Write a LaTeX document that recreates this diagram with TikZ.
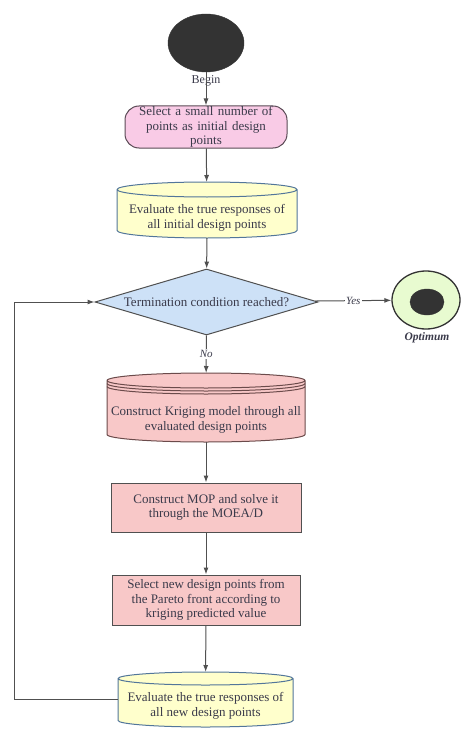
\documentclass[tikz,border=0pt]{standalone}
\usepackage{fontspec}
\setmainfont{Liberation Serif}
\usetikzlibrary{shapes.geometric,arrows.meta,backgrounds,calc}
\definecolor{txt}{HTML}{3A3A4A}
\definecolor{lc}{HTML}{505050}
\definecolor{dark}{HTML}{333333}
\definecolor{pinkfill}{HTML}{F9CBE6}
\definecolor{pinkline}{HTML}{5A4A55}
\definecolor{yelfill}{HTML}{FFFFCC}
\definecolor{yelline}{HTML}{52769A}
\definecolor{bluefill}{HTML}{CDE1F7}
\definecolor{redfill}{HTML}{F8C8C8}
\definecolor{redline}{HTML}{6B4B4B}
\definecolor{greenfill}{HTML}{E8FBD0}
\newcommand\mycyl[3]{%
  \path[#3] let \p1=(#1.north west), \p2=(#1.south east), \n1={(\x2-\x1)/2} in
    (\x1,\y1-#2) -- (\x1,\y2+#2)
    arc[start angle=180,end angle=360,x radius=\n1,y radius=#2]
    -- (\x2,\y1-#2)
    arc[start angle=0,end angle=180,x radius=\n1,y radius=#2] -- cycle
    (\x1,\y1-#2) arc[start angle=180,end angle=360,x radius=\n1,y radius=#2];}
\begin{document}
\begin{tikzpicture}[x=1pt,y=-1pt,
  font=\fontsize{13}{14.5}\selectfont, text=txt,
  line/.style={draw=lc, line width=1pt},
  arr/.style={line, -{Latex[length=7pt,width=5pt]}},
  lbl/.style={font=\fontsize{11}{13}\selectfont\itshape, fill=white, inner sep=1.5pt},
  shapenode/.style={rectangle, inner sep=0pt, outer sep=0pt},
  txtnode/.style={align=center, inner sep=0pt},
  rectbox/.style={rectangle, draw=lc, line width=1pt, fill=redfill, align=center, inner sep=0pt}]
\useasboundingbox (0,0) rectangle (474,741);

% Begin
\node[ellipse, fill=dark, draw=dark, minimum width=76pt, minimum height=58pt, inner sep=0pt] (begin) at (206,43) {};
\node[font=\fontsize{12}{14}\selectfont] (beginl) at (206,81) {Begin};

% Select initial
\node[rectangle, rounded corners=14pt, draw=pinkline, line width=1pt, fill=pinkfill,
      minimum width=162pt, minimum height=42pt, text width=160pt, align=center, inner sep=0pt] (sel) at (206,127)
      {Select a small number of\\ points as initial design\\ points};

% Evaluate initial (cylinder)
\node[shapenode, minimum width=180pt, minimum height=56pt] (ev1) at (207,210) {};
\node[txtnode] (ev1t) at (207,218) {Evaluate the true responses of\\ all initial design points};

% Decision
\node[diamond, draw=lc, line width=1pt, fill=bluefill, minimum width=223pt, minimum height=66pt, inner sep=0pt] (term) at (206.5,302) {};
\node[txtnode] (termt) at (206.5,302) {Termination condition reached?};

% Optimum
\node[ellipse, draw=dark, line width=1.3pt, fill=greenfill, minimum width=68pt, minimum height=58pt, inner sep=0pt] (opt) at (426,300) {};
\node[ellipse, fill=dark, draw=dark, minimum width=34pt, minimum height=26pt, inner sep=0pt] (optin) at (427,302) {};
\node[font=\fontsize{11.5}{13}\selectfont\bfseries\itshape] (optl) at (427,338) {Optimum};

% Kriging (stacked cylinder)
\node[shapenode, minimum width=198pt, minimum height=69pt] (krig) at (206,407.5) {};
\node[txtnode] (krigt) at (206,420) {Construct Kriging model through all\\ evaluated design points};

% MOP
\node[rectbox, minimum width=190pt, minimum height=49pt] (mop) at (206,507.5)
  {Construct MOP and solve it\\ through the MOEA/D};

% Select new
\node[rectbox, minimum width=188pt, minimum height=50pt] (snew) at (206,600)
  {Select new design points from\\ the Pareto front according to\\ kriging predicted value};

% Evaluate new (cylinder)
\node[shapenode, minimum width=175pt, minimum height=55pt] (ev2) at (205.5,699.5) {};
\node[txtnode] (ev2t) at (205.5,706) {Evaluate the true responses of\\ all new design points};

% cylinder drawings
\begin{scope}[on background layer]
  \mycyl{ev1}{7.5pt}{fill=yelfill, draw=yelline, line width=1pt}
  \mycyl{ev2}{6.5pt}{fill=yelfill, draw=yelline, line width=1pt}
  \mycyl{krig}{7.5pt}{fill=redfill, draw=redline, line width=1pt}
  \path[draw=redline, line width=1pt] let \p1=(krig.north west), \p2=(krig.south east), \n1={(\x2-\x1)/2} in
    (\x1,\y1-10.5pt) arc[start angle=180,end angle=360,x radius=\n1,y radius=7.5pt]
    (\x1,\y1-13.5pt) arc[start angle=180,end angle=360,x radius=\n1,y radius=7.5pt];
\end{scope}

% connectors
\draw[arr] (begin) -- (sel);
\draw[arr] (sel) -- (ev1);
\draw[arr] (ev1) -- (term);
\draw[arr] (term) -- node[lbl] (yes) {Yes} (opt);
\draw[arr] (term) -- node[lbl] (no) {No} (krig);
\draw[arr] (krig) -- (mop);
\draw[arr] (mop) -- (snew);
\draw[arr] (snew) -- (ev2);
\coordinate (lp) at (14,700);
\draw[arr] (ev2.west) -- (ev2.west -| lp) -- (lp |- term.west) -- (term.west);
\end{tikzpicture}
\end{document}
